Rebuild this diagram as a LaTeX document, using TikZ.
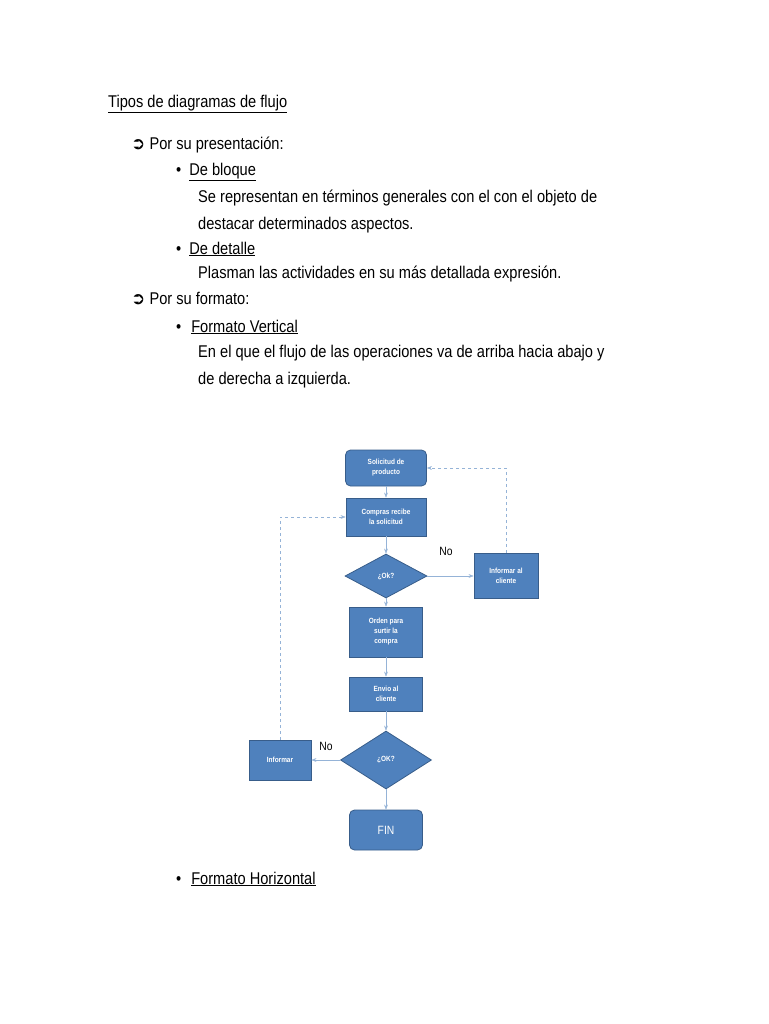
\documentclass[tikz,border=0pt]{standalone}
\usepackage{fontspec}
\setmainfont[FakeStretch=0.86]{Liberation Sans}
\newfontfamily\symfont{DejaVu Sans}
\usetikzlibrary{shapes.geometric,arrows.meta}
\definecolor{boxblue}{HTML}{4F81BD}
\definecolor{boxedge}{HTML}{385D8A}
\definecolor{linkblue}{HTML}{95B3D7}
\tikzset{
	txt/.style={anchor=west,inner sep=0pt,font=\fontsize{17}{20}\selectfont},
	blk/.style={draw=boxedge,fill=boxblue,text=white,thick,align=center,font=\fontsize{7.5}{10}\selectfont\bfseries},
	rbox/.style={blk,rounded corners=5pt},
	dec/.style={blk,diamond,aspect=1.9,inner sep=1pt},
	link/.style={draw=linkblue,-{Stealth[length=5pt]}},
	back/.style={link,dashed}
}
\begin{document}
\begin{tikzpicture}[x=1pt,y=-1pt]
	\useasboundingbox (0,0) rectangle (768,1024);
	% texto
	\node[txt] (title) at (108,104) {\underline{Tipos de diagramas de flujo}};
	\node[txt] (p1) at (131,145) {{\symfont ➲} Por su presentación:};
	\node[txt] (b1) at (176,172) {•\hspace{8pt}\underline{De bloque}};
	\node[txt] (t1) at (198,198) {Se representan en términos generales con el con el objeto de};
	\node[txt] (t2) at (198,225) {destacar determinados aspectos.};
	\node[txt] (b2) at (176,249) {•\hspace{8pt}\underline{De detalle}};
	\node[txt] (t3) at (198,274) {Plasman las actividades en su más detallada expresión.};
	\node[txt] (p2) at (131,299) {{\symfont ➲} Por su formato:};
	\node[txt] (b3) at (176,327) {•\hspace{10pt}\underline{Formato Vertical}};
	\node[txt] (t4) at (198,353) {En el que el flujo de las operaciones va de arriba hacia abajo y};
	\node[txt] (t5) at (198,380) {de derecha a izquierda.};
	\node[txt] (b4) at (176,879) {•\hspace{10pt}\underline{Formato Horizontal}};

	% diagrama
	\node[rbox,minimum width=81pt,minimum height=36pt] (sol) at (386,468) {Solicitud de\\producto};
	\node[blk,minimum width=80pt,minimum height=38pt] (comp) at (386,517) {Compras recibe\\la solicitud};
	\node[dec,minimum width=82pt,minimum height=44pt] (ok1) at (386,576) {¿Ok?};
	\node[blk,minimum width=64pt,minimum height=45pt] (infc) at (506,576) {Informar al\\cliente};
	\node[blk,minimum width=73pt,minimum height=50pt] (ord) at (386,632) {Orden para\\surtir la\\compra};
	\node[blk,minimum width=73pt,minimum height=34pt] (env) at (386,694) {Envio al\\cliente};
	\node[dec,minimum width=91pt,minimum height=58pt] (ok2) at (386,760) {¿OK?};
	\node[blk,minimum width=62pt,minimum height=40pt] (inf) at (280,760) {Informar};
	\node[rbox,minimum width=73pt,minimum height=40pt,font=\fontsize{12}{14}\selectfont] (fin) at (386,830) {FIN};
	\node[font=\fontsize{12}{14}\selectfont] (no1) at (446,551) {No};
	\node[font=\fontsize{12}{14}\selectfont] (no2) at (326,746) {No};

	\draw[link] (sol) -- (comp);
	\draw[link] (comp) -- (ok1);
	\draw[link] (ok1) -- (ord);
	\draw[link] (ok1) -- (infc);
	\draw[link] (ord) -- (env);
	\draw[link] (env) -- (ok2);
	\draw[link] (ok2) -- (fin);
	\draw[link] (ok2) -- (inf);
	\draw[back] (infc.north) |- (sol.east);
	\draw[back] (inf.north) |- (comp.west);
\end{tikzpicture}
\end{document}
